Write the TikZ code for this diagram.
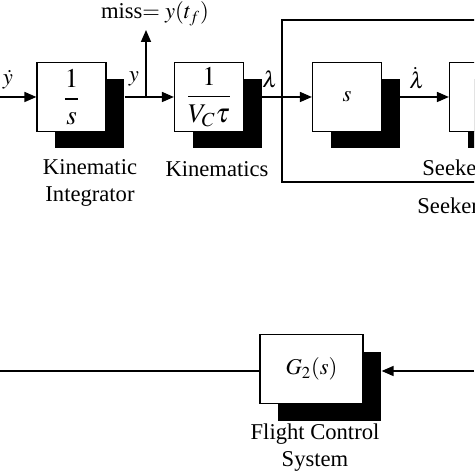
\documentclass[tikz,border=0pt]{standalone}
\usepackage{amsmath}
\usepackage{mathptmx}
\usepackage{fontspec}
\setmainfont{Liberation Serif}
\usetikzlibrary{arrows.meta,shadows}
\begin{document}
\begin{tikzpicture}[x=0.5pt,y=-0.5pt,
  every node/.style={font=\fontsize{11.3}{13.5}\selectfont},
  blk/.style={draw,line width=0.6pt,fill=white,minimum width=34.5pt,minimum height=34.5pt,inner sep=0pt,
    drop shadow={shadow xshift=9pt,shadow yshift=-8.5pt,fill=black,opacity=1}},
  bigm/.style={font=\fontsize{13.5}{16}\selectfont},
  conn/.style={line width=0.8pt},
  arr/.style={conn,-{Triangle[length=6pt,width=5pt]}},
  lbl/.style={inner sep=0pt,align=center}]
\clip (0,0) rectangle (474,474);
\fill[white] (0,0) rectangle (474,474);
% outer seeker box
\draw[line width=0.6pt] (282,20) rectangle (520,182);
% blocks
\node[blk,bigm] (B1) at (71.5,97) {$\dfrac{1}{s}$};
\node[blk,bigm] (B2) at (209,97) {$\dfrac{1}{V_C\tau}$};
\node[blk] (B3) at (347,97) {$s$};
\node[blk] (B4) at (484,97) {};
\node[blk,minimum width=51.5pt] (G2) at (311.5,369) {$G_2(s)$};
% coordinates
\coordinate (in) at (0,97);
\coordinate (br) at (146,97);
\coordinate (fin) at (0,371);
\coordinate (rin) at (474,371);
% connectors
\draw[arr] (in) -- (B1.west);
\draw[conn] ([xshift=9pt]B1.east) -- (br);
\draw[arr] (br) -- (B2.west);
\node[lbl] (miss) at (155,14) {miss$=y(t_f)$};
\draw[arr] (br) -- (146,30);
\draw[arr] ([xshift=9pt]B2.east) -- (B3.west);
\draw[arr] ([xshift=9pt]B3.east) -- (B4.west);
\draw[conn] (G2.west |- fin) -- (fin);
\draw[arr] (rin) -- ([xshift=9pt]G2.east |- rin);
% signal labels
\node[lbl] (ydot) at (8,80) {$\dot y$};
\node[lbl] (ylab) at (134,79) {$y$};
\node[lbl] (lam) at (270,79) {$\lambda$};
\node[lbl] (lamd) at (417,78) {$\dot\lambda$};
% block labels
\node[lbl] (t1) at (90,183) {Kinematic\\Integrator};
\node[lbl] (t2) at (217,169) {Kinematics};
\node[lbl,anchor=west] (t3) at (422,168) {Seeker};
\node[lbl,anchor=west] (t4) at (417,206) {Seeker};
\node[lbl] (t5) at (315,448) {Flight Control\\System};
\end{tikzpicture}
\end{document}
